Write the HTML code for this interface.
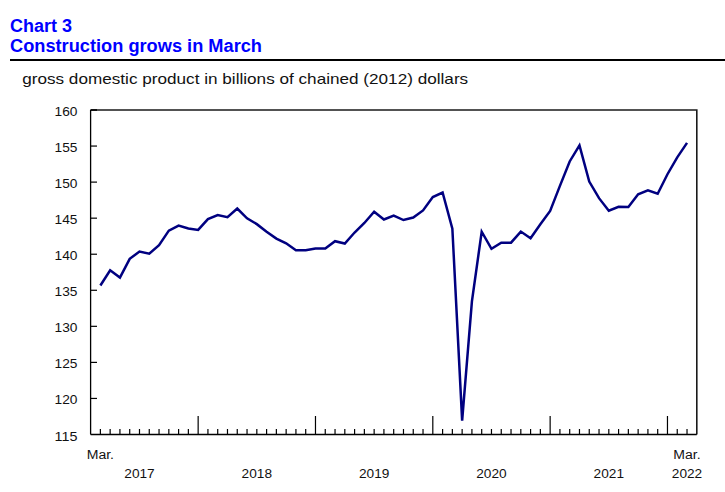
<!DOCTYPE html>
<html><head><meta charset="utf-8">
<style>
html,body{margin:0;padding:0;background:#fff;width:725px;height:492px;overflow:hidden}
svg{position:absolute;left:0;top:0}
text{font-family:"Liberation Sans",sans-serif}
</style></head><body>
<svg width="725" height="492" viewBox="0 0 725 492">
<text x="10" y="31.8" font-size="18" font-weight="bold" fill="#0000ff">Chart 3</text>
<text x="10" y="52" font-size="18" font-weight="bold" fill="#0000ff" textLength="252" lengthAdjust="spacingAndGlyphs">Construction grows in March</text>
<rect x="10" y="59" width="715" height="2" fill="#000"/>
<text x="22.2" y="83.8" font-size="15" fill="#111" textLength="446" lengthAdjust="spacingAndGlyphs">gross domestic product in billions of chained (2012) dollars</text>
<g font-size="12.5" fill="#111">
<text x="77.5" y="440.50" font-size="13.5" text-anchor="end" textLength="22.9" lengthAdjust="spacingAndGlyphs">115</text>
<text x="77.5" y="404.44" font-size="13.5" text-anchor="end" textLength="22.9" lengthAdjust="spacingAndGlyphs">120</text>
<text x="77.5" y="368.39" font-size="13.5" text-anchor="end" textLength="22.9" lengthAdjust="spacingAndGlyphs">125</text>
<text x="77.5" y="332.33" font-size="13.5" text-anchor="end" textLength="22.9" lengthAdjust="spacingAndGlyphs">130</text>
<text x="77.5" y="296.28" font-size="13.5" text-anchor="end" textLength="22.9" lengthAdjust="spacingAndGlyphs">135</text>
<text x="77.5" y="260.22" font-size="13.5" text-anchor="end" textLength="22.9" lengthAdjust="spacingAndGlyphs">140</text>
<text x="77.5" y="224.17" font-size="13.5" text-anchor="end" textLength="22.9" lengthAdjust="spacingAndGlyphs">145</text>
<text x="77.5" y="188.11" font-size="13.5" text-anchor="end" textLength="22.9" lengthAdjust="spacingAndGlyphs">150</text>
<text x="77.5" y="152.06" font-size="13.5" text-anchor="end" textLength="22.9" lengthAdjust="spacingAndGlyphs">155</text>
<text x="77.5" y="116.00" font-size="13.5" text-anchor="end" textLength="22.9" lengthAdjust="spacingAndGlyphs">160</text>
<text x="139.49" y="478.2" font-size="13" text-anchor="middle" textLength="30.4" lengthAdjust="spacingAndGlyphs">2017</text>
<text x="256.82" y="478.2" font-size="13" text-anchor="middle" textLength="30.4" lengthAdjust="spacingAndGlyphs">2018</text>
<text x="374.15" y="478.2" font-size="13" text-anchor="middle" textLength="30.4" lengthAdjust="spacingAndGlyphs">2019</text>
<text x="491.47" y="478.2" font-size="13" text-anchor="middle" textLength="30.4" lengthAdjust="spacingAndGlyphs">2020</text>
<text x="608.80" y="478.2" font-size="13" text-anchor="middle" textLength="30.4" lengthAdjust="spacingAndGlyphs">2021</text>
<text x="687.02" y="478.2" font-size="13" text-anchor="middle" textLength="30.4" lengthAdjust="spacingAndGlyphs">2022</text>
<text x="100.38" y="459" text-anchor="middle" textLength="27.3" lengthAdjust="spacingAndGlyphs">Mar.</text>
<text x="687.02" y="459" text-anchor="middle" textLength="27.3" lengthAdjust="spacingAndGlyphs">Mar.</text>
</g>
<g stroke="#000" stroke-width="1.2" fill="none">
<polyline points="90.6,110.0 696.8,110.0 696.8,434.5" stroke="#1a1a1a" stroke-width="1.6"/>
<line x1="90.6" y1="110.0" x2="97" y2="110.0" stroke="#000" stroke-width="1.6"/>
<line x1="90.6" y1="110.0" x2="90.6" y2="434.5" stroke-width="1.3"/>
<line x1="90.6" y1="434.5" x2="696.8" y2="434.5" stroke-width="1.5"/>
<line x1="90.6" y1="398.44" x2="97" y2="398.44"/>
<line x1="90.6" y1="362.39" x2="97" y2="362.39"/>
<line x1="90.6" y1="326.33" x2="97" y2="326.33"/>
<line x1="90.6" y1="290.28" x2="97" y2="290.28"/>
<line x1="90.6" y1="254.22" x2="97" y2="254.22"/>
<line x1="90.6" y1="218.17" x2="97" y2="218.17"/>
<line x1="90.6" y1="182.11" x2="97" y2="182.11"/>
<line x1="90.6" y1="146.06" x2="97" y2="146.06"/>
<line x1="100.38" y1="429" x2="100.38" y2="434.5"/>
<line x1="110.15" y1="429" x2="110.15" y2="434.5"/>
<line x1="119.93" y1="429" x2="119.93" y2="434.5"/>
<line x1="129.71" y1="429" x2="129.71" y2="434.5"/>
<line x1="139.49" y1="429" x2="139.49" y2="434.5"/>
<line x1="149.26" y1="429" x2="149.26" y2="434.5"/>
<line x1="159.04" y1="429" x2="159.04" y2="434.5"/>
<line x1="168.82" y1="429" x2="168.82" y2="434.5"/>
<line x1="178.60" y1="429" x2="178.60" y2="434.5"/>
<line x1="188.37" y1="429" x2="188.37" y2="434.5"/>
<line x1="198.15" y1="416" x2="198.15" y2="434.5"/>
<line x1="207.93" y1="429" x2="207.93" y2="434.5"/>
<line x1="217.71" y1="429" x2="217.71" y2="434.5"/>
<line x1="227.48" y1="429" x2="227.48" y2="434.5"/>
<line x1="237.26" y1="429" x2="237.26" y2="434.5"/>
<line x1="247.04" y1="429" x2="247.04" y2="434.5"/>
<line x1="256.82" y1="429" x2="256.82" y2="434.5"/>
<line x1="266.59" y1="429" x2="266.59" y2="434.5"/>
<line x1="276.37" y1="429" x2="276.37" y2="434.5"/>
<line x1="286.15" y1="429" x2="286.15" y2="434.5"/>
<line x1="295.93" y1="429" x2="295.93" y2="434.5"/>
<line x1="305.70" y1="429" x2="305.70" y2="434.5"/>
<line x1="315.48" y1="416" x2="315.48" y2="434.5"/>
<line x1="325.26" y1="429" x2="325.26" y2="434.5"/>
<line x1="335.04" y1="429" x2="335.04" y2="434.5"/>
<line x1="344.81" y1="429" x2="344.81" y2="434.5"/>
<line x1="354.59" y1="429" x2="354.59" y2="434.5"/>
<line x1="364.37" y1="429" x2="364.37" y2="434.5"/>
<line x1="374.15" y1="429" x2="374.15" y2="434.5"/>
<line x1="383.92" y1="429" x2="383.92" y2="434.5"/>
<line x1="393.70" y1="429" x2="393.70" y2="434.5"/>
<line x1="403.48" y1="429" x2="403.48" y2="434.5"/>
<line x1="413.25" y1="429" x2="413.25" y2="434.5"/>
<line x1="423.03" y1="429" x2="423.03" y2="434.5"/>
<line x1="432.81" y1="416" x2="432.81" y2="434.5"/>
<line x1="442.59" y1="429" x2="442.59" y2="434.5"/>
<line x1="452.36" y1="429" x2="452.36" y2="434.5"/>
<line x1="462.14" y1="429" x2="462.14" y2="434.5"/>
<line x1="471.92" y1="429" x2="471.92" y2="434.5"/>
<line x1="481.70" y1="429" x2="481.70" y2="434.5"/>
<line x1="491.47" y1="429" x2="491.47" y2="434.5"/>
<line x1="501.25" y1="429" x2="501.25" y2="434.5"/>
<line x1="511.03" y1="429" x2="511.03" y2="434.5"/>
<line x1="520.81" y1="429" x2="520.81" y2="434.5"/>
<line x1="530.58" y1="429" x2="530.58" y2="434.5"/>
<line x1="540.36" y1="429" x2="540.36" y2="434.5"/>
<line x1="550.14" y1="416" x2="550.14" y2="434.5"/>
<line x1="559.92" y1="429" x2="559.92" y2="434.5"/>
<line x1="569.69" y1="429" x2="569.69" y2="434.5"/>
<line x1="579.47" y1="429" x2="579.47" y2="434.5"/>
<line x1="589.25" y1="429" x2="589.25" y2="434.5"/>
<line x1="599.03" y1="429" x2="599.03" y2="434.5"/>
<line x1="608.80" y1="429" x2="608.80" y2="434.5"/>
<line x1="618.58" y1="429" x2="618.58" y2="434.5"/>
<line x1="628.36" y1="429" x2="628.36" y2="434.5"/>
<line x1="638.14" y1="429" x2="638.14" y2="434.5"/>
<line x1="647.91" y1="429" x2="647.91" y2="434.5"/>
<line x1="657.69" y1="429" x2="657.69" y2="434.5"/>
<line x1="667.47" y1="416" x2="667.47" y2="434.5"/>
<line x1="677.25" y1="429" x2="677.25" y2="434.5"/>
<line x1="687.02" y1="429" x2="687.02" y2="434.5"/>
</g>
<polyline points="100.38,285.53 110.15,270.36 119.93,277.58 129.71,258.81 139.49,251.58 149.26,253.75 159.04,245.08 168.82,230.64 178.60,225.58 188.37,228.47 198.15,229.92 207.93,219.08 217.71,215.11 227.48,217.13 237.26,208.54 247.04,218.36 256.82,224.14 266.59,231.72 276.37,238.58 286.15,243.28 295.93,250.28 305.70,250.28 315.48,248.55 325.26,248.41 335.04,241.18 344.81,243.49 354.59,232.52 364.37,222.98 374.15,211.72 383.92,219.52 393.70,215.55 403.48,220.02 413.25,217.50 423.03,210.42 432.81,196.99 442.59,192.51 452.36,228.62 462.14,420.58 471.92,301.42 481.70,231.72 491.47,248.77 501.25,242.70 511.03,242.70 520.81,231.58 530.58,238.22 540.36,224.21 550.14,211.00 559.92,185.86 569.69,161.45 579.47,145.42 589.25,181.53 599.03,198.14 608.80,210.78 618.58,206.81 628.36,207.10 638.14,194.31 647.91,190.27 657.69,193.74 667.47,174.24 677.25,157.34 687.02,142.89" fill="none" stroke="#000080" stroke-width="2.5" stroke-linejoin="miter" stroke-miterlimit="4"/>
</svg>
</body></html>
